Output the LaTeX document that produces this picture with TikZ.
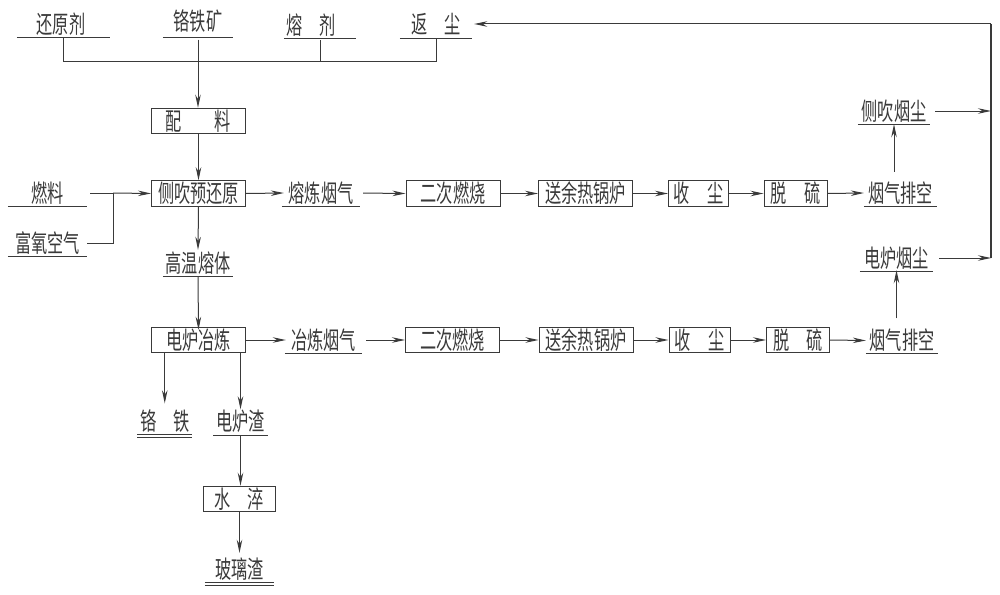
\documentclass[tikz,border=0pt]{standalone}
\usepackage{fontspec}
\newfontfamily\cjk[FakeStretch=0.66]{Noto Sans CJK SC}
\usetikzlibrary{arrows.meta}
\definecolor{ink}{HTML}{3A3A3A}
\newcommand{\gp}{\hspace*{17pt}}
\tikzset{
  every node/.style={font=\cjk\fontsize{24.5}{26}\selectfont,text=ink,inner sep=0pt},
  wire/.style={draw=ink,line width=1pt},
  arr/.style={wire,-{Stealth[length=13pt,width=5.5pt]}},
  procbox/.style={draw=ink,line width=1pt,rectangle,minimum height=25.5pt,minimum width=#1},
  lab/.style={rectangle,minimum height=26pt,minimum width=#1,
    append after command={(\tikzlastnode.south west) edge[wire] (\tikzlastnode.south east)}},
  dlab/.style={lab=#1,
    append after command={([yshift=-3pt]\tikzlastnode.south west) edge[wire] ([yshift=-3pt]\tikzlastnode.south east)}},
}
\begin{document}
\begin{tikzpicture}[x=1pt,y=-1pt]
\useasboundingbox[fill=white] (0,0) rectangle (1000,594);
% top materials
\node[lab=93pt,minimum height=27pt] (hyj) at (63.5,24) {还原剂\hspace*{5pt}};
\node[lab=70pt,minimum height=33pt] (gtk) at (198,21) {铬铁矿};
\node[lab=72pt,minimum height=26pt] (rj) at (320,25) {熔\gp 剂\gp};
\node[lab=72pt,minimum height=28pt] (fc) at (436,24) {返\gp 尘};
\coordinate (bus) at (198,61);
\node[procbox=94pt] (pl) at (198.5,121) {配\hspace*{33pt}料};
\node[procbox=94pt] (cc) at (198.5,193.5) {侧吹预还原};
\node[lab=79pt] (rl) at (47.5,193) {燃料};
\node[lab=79pt] (fy) at (47.5,243) {富氧空气};
\coordinate (mix) at (113,193);
\node[lab=78pt] (ry) at (321,193) {熔炼烟气};
\node[procbox=94pt] (ec1) at (453,193.5) {二次燃烧};
\node[procbox=94pt] (yr1) at (585.5,193.5) {送余热锅炉};
\node[procbox=60pt] (sc1) at (698.5,193.5) {收\gp 尘};
\node[procbox=63pt] (tl1) at (795.5,193.5) {脱\gp 硫};
\node[lab=73pt] (pk1) at (900.5,193) {烟气排空};
\node[lab=72pt] (ccd) at (894,111) {侧吹烟尘};
\node[lab=73pt] (dld) at (896.5,258) {电炉烟尘};
\coordinate (rt) at (991,24);
\coordinate (rm) at (991,111);
\coordinate (rb) at (991,258);
% second row
\node[lab=70pt] (gw) at (198,263) {高温熔体};
\node[procbox=94pt] (dl) at (198.5,340) {电炉冶炼};
\node[lab=77pt] (yy) at (323.5,340) {冶炼烟气};
\node[procbox=94pt] (ec2) at (452.5,340) {二次燃烧};
\node[procbox=94pt] (yr2) at (586,340) {送余热锅炉};
\node[procbox=61pt] (sc2) at (699.5,340) {收\gp 尘};
\node[procbox=63pt] (tl2) at (798,340) {脱\gp 硫};
\node[lab=72pt] (pk2) at (902,340.5) {烟气排空};
% lower branch
\node[dlab=54.5pt] (gt) at (164.75,421.5) {铬\gp 铁};
\node[lab=54pt,minimum height=29pt] (dz) at (240.5,421) {电炉渣};
\node[procbox=72pt] (sc) at (239.5,499) {水\gp 淬};
\node[dlab=69pt] (bl) at (239.5,569) {玻璃渣};
% connectors
\draw[wire] (hyj.south) -- (hyj.south |- bus) -- (fc.south |- bus) -- (fc.south);
\draw[wire,shorten <=2pt] (rj.south) -- (rj.south |- bus);
\draw[arr,shorten <=2pt] (gtk.south) -- (pl.north -| gtk.south);
\draw[arr] (pl.south) -- (cc.north);
\draw[wire,shorten <=3pt] (rl.east) -- (mix);
\draw[arr] (mix) -- (cc.west);
\draw[wire] (fy.east) -- (mix |- fy.east) -- (mix);
\draw[arr] (cc.east) -- ([xshift=2pt]ry.west);
\draw[arr,shorten <=3pt] (ry.east) -- (ec1.west);
\draw[arr] (ec1.east) -- (yr1.west);
\draw[arr] (yr1.east) -- (sc1.west);
\draw[arr] (sc1.east) -- (tl1.west);
\draw[arr] (tl1.east) -- (pk1.west);
\draw[arr,shorten <=8pt] (ccd.south |- pk1.north) -- (ccd.south);
\draw[wire,line width=1.4pt] (rb) -- (rt);
\draw[arr] (rt) -- ([xshift=2pt]fc.east |- rt);
\draw[arr,shorten <=5pt] (ccd.east) -- (rm);
\draw[arr,shorten <=6pt] (dld.east) -- (rb);
\draw[arr,shorten <=9pt] (dld.south |- pk2.north) -- ([yshift=1pt]dld.south);
\draw[arr] (cc.south) -- (gw.north);
\draw[arr] (gw.south) -- ([yshift=-3pt]dl.north);
\draw[arr] (dl.east) -- ([xshift=1pt]yy.west);
\draw[arr,shorten <=4pt] (yy.east) -- (ec2.west);
\draw[arr] (ec2.east) -- (yr2.west);
\draw[arr] (yr2.east) -- (sc2.west);
\draw[arr] (sc2.east) -- (tl2.west);
\draw[arr] (tl2.east) -- (pk2.west);
\draw[arr,shorten >=5pt] (gt.north |- dl.south) -- (gt.north);
\draw[arr] (dz.north |- dl.south) -- ([yshift=-3pt]dz.north);
\draw[arr] (dz.south) -- (sc.north -| dz.south);
\draw[arr,shorten >=3pt] (sc.south) -- (bl.north);
\end{tikzpicture}
\end{document}
